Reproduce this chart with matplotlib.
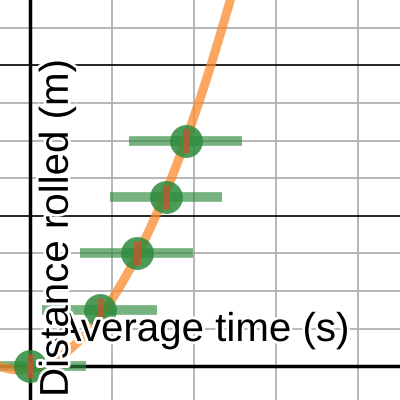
import numpy as np
import matplotlib
matplotlib.use('Agg')
import matplotlib.pyplot as plt
import matplotlib.patheffects as pe

# data
avg_time = [0.0, 0.85, 1.3, 1.66, 1.9]
distance = [0.0, 0.75, 1.5, 2.25, 3.0]
time_err = [0.68, 0.7, 0.69, 0.68, 0.69]
dist_err = [0.16, 0.16, 0.16, 0.16, 0.16]
# fitted curve y = a*(x - h)^2 + k
fit_a, fit_h, fit_k = 0.75, -0.12, -0.05

fig = plt.figure(figsize=(4, 4), dpi=100)
ax = fig.add_axes([0, 0, 1, 1])
ax.set_xlim(-0.366, 4.51)
ax.set_ylim(-0.45, 4.87)

# grid
for gx in [1, 2, 3, 4]:
    ax.axvline(gx, color='#aaaaaa', lw=1.2, zorder=0)
for gy in np.arange(0.5, 5, 0.5):
    dark = gy % 2 == 0
    ax.axhline(gy, color='black' if dark else '#aaaaaa', lw=1.2, zorder=0)
ax.axhline(0, color='black', lw=2.5, zorder=1)
ax.axvline(0, color='black', lw=2.5, zorder=1)

xs = np.linspace(-0.4, 2.6, 200)
ax.plot(xs, fit_a * (xs - fit_h) ** 2 + fit_k, color='#fa8a2e', lw=6.5, alpha=0.75, zorder=3)

ax.errorbar(avg_time, distance, xerr=time_err, fmt='none', ecolor='#2d8b3c',
            elinewidth=7, alpha=0.65, capsize=0, zorder=2)
ax.scatter(avg_time, distance, s=560, color='#2d8b3c', alpha=0.85, zorder=4, lw=0)
ax.errorbar(avg_time, distance, yerr=dist_err, fmt='none', ecolor='#d2502e',
            elinewidth=5, alpha=0.7, capsize=0, zorder=5)

halo = [pe.withStroke(linewidth=4, foreground='white')]
ax.text(0.505, 0.175, 'Average time (s)', transform=ax.transAxes, fontsize=29,
        family='Liberation Sans', ha='center', va='center', zorder=6, path_effects=halo)
ax.text(0.142, 0.43, 'Distance rolled (m)', transform=ax.transAxes, fontsize=29,
        family='Liberation Sans', rotation=90, ha='center', va='center', zorder=6,
        path_effects=halo)

ax.axis('off')
fig.savefig('out.png', dpi=100)
